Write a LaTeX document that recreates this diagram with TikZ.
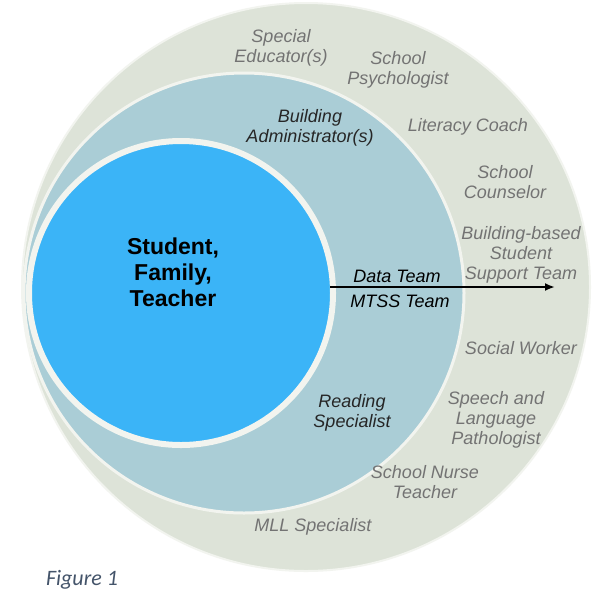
\documentclass[tikz,border=0pt]{standalone}
\usepackage{fontspec}
\usetikzlibrary{arrows.meta}
\setmainfont{Liberation Sans}
\newfontfamily\carl{Carlito}
\begin{document}
\begin{tikzpicture}[x=1pt,y=-1pt,
  outerlbl/.style={font=\itshape\fontsize{18}{20}\selectfont,text=black!55,align=center,inner sep=0pt},
  innerlbl/.style={font=\itshape\fontsize{18}{20}\selectfont,text=black!85,align=center,inner sep=0pt}]
\definecolor{outerc}{HTML}{DDE3D8}
\definecolor{midc}{HTML}{AACDD6}
\definecolor{innc}{HTML}{3BB4F7}
\definecolor{ringc}{HTML}{F2F4EF}
\definecolor{figc}{HTML}{44546A}
\useasboundingbox (0,0) rectangle (612,600);
\fill[white] (0,0) rectangle (612,600);
\fill[outerc,draw=ringc,line width=2pt] (306,287) circle (284);
\fill[midc,draw=ringc,line width=3pt] (244,293) circle (220);
\fill[innc,draw=ringc,line width=6pt] (181,293) circle (152);
\node[font=\bfseries\fontsize{23}{26}\selectfont,align=center] (core) at (173,272) {Student,\\Family,\\Teacher};
\coordinate (arrs) at (330,287);
\coordinate (arre) at (555,287);
\draw[line width=2.2pt,-{Latex[length=10pt,width=8pt]}] (arrs) -- (arre);
\node[innerlbl,text=black] (data) at (397,276) {Data Team};
\node[innerlbl,text=black] (mtss) at (400,301) {MTSS Team};
\node[innerlbl] (ba) at (310,128) {Building\\Administrator(s)};
\node[innerlbl] (rs) at (352,413) {Reading\\Specialist};
\node[outerlbl] (se) at (281,48) {Special\\Educator(s)};
\node[outerlbl] (sp) at (398,70) {School\\Psychologist};
\node[outerlbl] (lc) at (468,127) {Literacy Coach};
\node[outerlbl] (sc) at (505,182) {School\\Counselor};
\node[outerlbl] (bb) at (521,255) {Building-based\\Student\\Support Team};
\node[outerlbl] (sw) at (521,348) {Social Worker};
\node[outerlbl] (sl) at (496,420) {Speech and\\Language\\Pathologist};
\node[outerlbl] (sn) at (425,482) {School Nurse\\Teacher};
\node[outerlbl] (mll) at (313,527) {MLL Specialist};
\node[font=\carl\itshape\fontsize{22}{24}\selectfont,text=figc] (fig) at (82,580) {Figure 1};
\end{tikzpicture}
\end{document}
